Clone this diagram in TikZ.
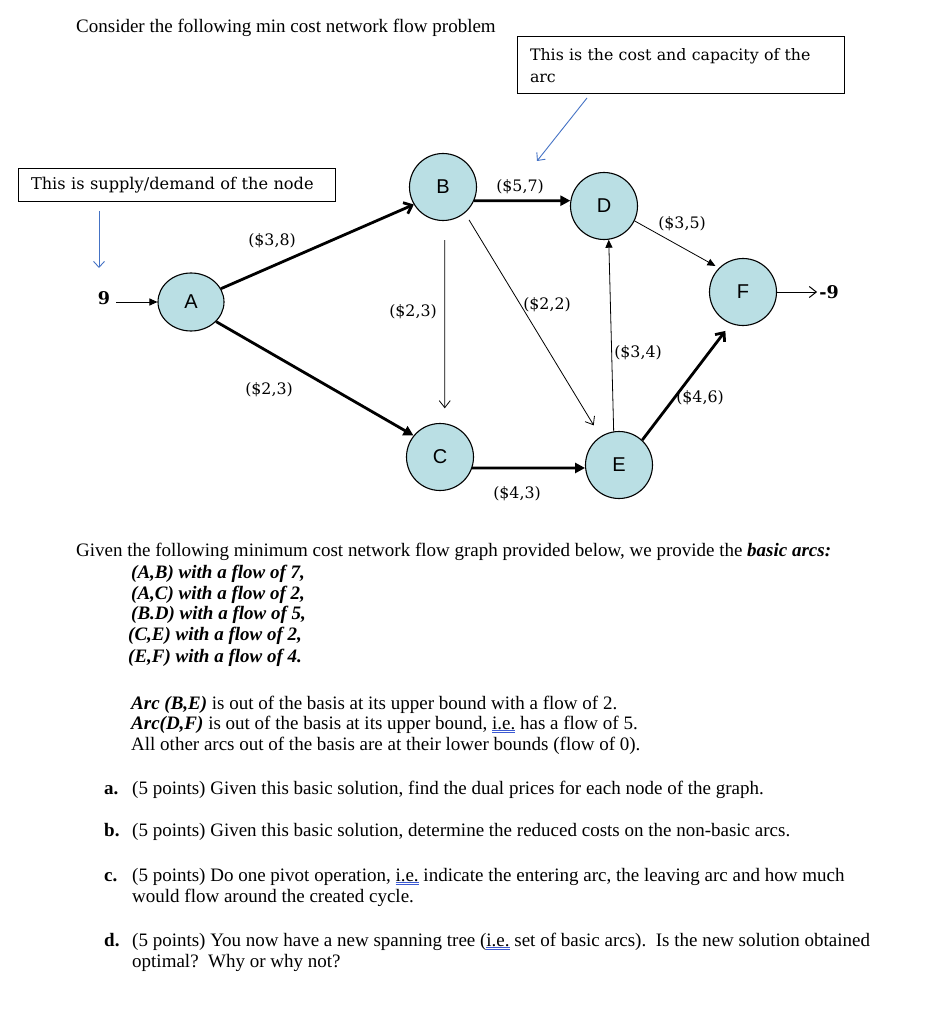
\documentclass[tikz,border=0pt]{standalone}
\usepackage{fontspec}
\setmainfont{Liberation Serif}
\newfontfamily\lblfont{DejaVu Serif}
\newfontfamily\nodefont{Liberation Sans}
\usetikzlibrary{arrows.meta,shapes.geometric}
\definecolor{nodefill}{RGB}{186,223,228}
\definecolor{callblue}{RGB}{68,114,196}
\definecolor{ulblue}{RGB}{60,90,210}
\newcommand{\ieul}[1]{\textcolor{ulblue}{\underline{\underline{\textcolor{black}{#1}}}}}
\begin{document}
\begin{tikzpicture}[x=1pt,y=-1pt,
  vtx/.style={circle,draw=black,line width=1.1pt,fill=nodefill,minimum size=67pt,inner sep=0pt,font=\nodefont\fontsize{20}{24}\selectfont},
  thickarc/.style={line width=2.8pt},
  thinarc/.style={line width=0.8pt},
  openhead/.style={-{Straight Barb[length=7pt,width=12pt]}},
  fillhead/.style={-{Triangle[length=10pt,width=10pt]}},
  thinfill/.style={-{Triangle[length=8pt,width=7pt]}},
  thinopen/.style={-{Straight Barb[length=7pt,width=11pt]}},
  bluearr/.style={draw=callblue,line width=0.9pt,-{Straight Barb[length=6pt,width=11pt]}},
  lbl/.style={font=\lblfont\fontsize{15.8}{19}\selectfont,inner sep=0pt},
  body/.style={anchor=base west,inner sep=0pt,font=\fontsize{19}{21}\selectfont},
  callbox/.style={draw=black,line width=1pt,font=\lblfont\fontsize{15.8}{22}\selectfont,align=left,inner xsep=13pt,inner ysep=0pt}
]
\useasboundingbox (0,0) rectangle (938,1024);

% title
\node[body] (t0) at (76,33) {Consider the following min cost network flow problem};

% callout boxes
\node[callbox,text width=301pt,minimum height=57pt] (cbox) at (680.5,65.5) {This is the cost and capacity of the\\arc};
\node[callbox,text width=291pt,minimum height=33pt,font=\lblfont\fontsize{16.2}{22}\selectfont] (sbox) at (176.5,185.5) {This is supply/demand of the node};
\coordinate (c1s) at (587,98);
\coordinate (c1e) at (537,161);
\draw[bluearr] (c1s) -- (c1e);
\coordinate (c2s) at (99,211);
\coordinate (c2e) at (99,268);
\draw[bluearr] (c2s) -- (c2e);

% vertices
\node[vtx,ellipse,minimum width=66pt,minimum height=58pt] (A) at (191,302) {A};
\node[vtx] (B) at (443,187) {B};
\node[vtx] (C) at (440,457) {C};
\node[vtx] (D) at (604,206) {D};
\node[vtx] (E) at (619,465) {E};
\node[vtx] (F) at (743,292) {F};

% supply / demand
\node[lbl,font=\lblfont\bfseries\fontsize{17.5}{20}\selectfont] (nine) at (104,298) {9};
\node[lbl,font=\lblfont\bfseries\fontsize{17.5}{20}\selectfont] (mnine) at (829,292) {-9};
\draw[line width=1pt,thinfill,shorten <=6pt] (nine.east |- A.west) -- (A.west);
\draw[line width=1pt,thinopen,shorten >=2pt] (F.east) -- (mnine.west);

% arcs
\draw[thickarc,openhead] (A.24) -- (B.211);
\draw[thickarc,fillhead] (A.-38) -- (C.141);
\draw[thickarc,fillhead] (B.-24) -- (D.171);
\draw[thickarc,fillhead] (C.-19) -- (E.185);
\draw[thickarc,openhead,shorten >=9pt] (E.47) -- (F.-111);
\draw[thinarc,thinopen,shorten <=19pt,shorten >=15pt] (B.-87) -- (C.82);
\draw[thinarc,thinopen,shorten <=8pt,shorten >=13pt] (B.-50) -- (E.123);
\draw[thinarc,thinfill] (E.99) -- (D.-82);
\draw[thinarc,thinfill,shorten >=4pt] (D.-26) -- (F.135);

% arc labels
\node[lbl] (l38) at (272,241) {(\$3,8)};
\node[lbl] (l23a) at (269,390) {(\$2,3)};
\node[lbl] (l57) at (520,187) {(\$5,7)};
\node[lbl] (l23b) at (413,312) {(\$2,3)};
\node[lbl] (l22) at (547,305) {(\$2,2)};
\node[lbl] (l34) at (638,353) {(\$3,4)};
\node[lbl] (l35) at (682,224) {(\$3,5)};
\node[lbl] (l46) at (700,398) {(\$4,6)};
\node[lbl] (l43) at (517,494) {(\$4,3)};

% body text
\node[body] (g0) at (76,556) {Given the following minimum cost network flow graph provided below, we provide the \textbf{\textit{basic arcs:}}};
\node[body] (g1) at (131,578) {\textbf{\textit{(A,B) with a flow of 7,}}};
\node[body] (g2) at (131,599) {\textbf{\textit{(A,C) with a flow of 2,}}};
\node[body] (g3) at (131,619) {\textbf{\textit{(B.D) with a flow of 5,}}};
\node[body] (g4) at (128,640) {\textbf{\textit{(C,E) with a flow of 2,}}};
\node[body] (g5) at (128,662) {\textbf{\textit{(E,F) with a flow of 4.}}};

\node[body] (h1) at (131,709) {\textbf{\textit{Arc (B,E)}} is out of the basis at its upper bound with a flow of 2.};
\node[body] (h2) at (131,729) {\textbf{\textit{Arc(D,F)}} is out of the basis at its upper bound, \ieul{i.e.} has a flow of 5.};
\node[body] (h3) at (131,750) {All other arcs out of the basis are at their lower bounds (flow of 0).};

\node[body] (qa) at (104,794) {\textbf{a.}};
\node[body] (qat) at (132,794) {(5 points) Given this basic solution, find the dual prices for each node of the graph.};
\node[body] (qb) at (104,836) {\textbf{b.}};
\node[body] (qbt) at (132,836) {(5 points) Given this basic solution, determine the reduced costs on the non-basic arcs.};
\node[body] (qc) at (104,881) {\textbf{c.}};
\node[body] (qct) at (132,881) {(5 points) Do one pivot operation, \ieul{i.e.} indicate the entering arc, the leaving arc and how much};
\node[body] (qct2) at (132,902) {would flow around the created cycle.};
\node[body] (qd) at (104,946) {\textbf{d.}};
\node[body] (qdt) at (132,946) {(5 points) You now have a new spanning tree (\ieul{i.e.} set of basic arcs).\ \ Is the new solution obtained};
\node[body] (qdt2) at (132,967) {optimal?\ \ Why or why not?};
\end{tikzpicture}
\end{document}
